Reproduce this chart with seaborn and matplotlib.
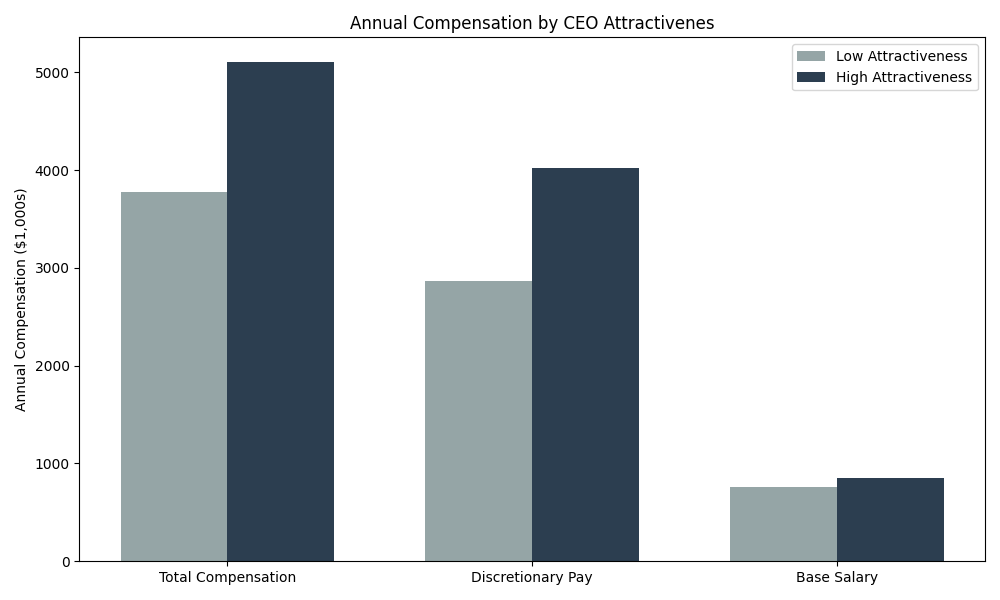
import matplotlib
matplotlib.use("Agg")
import matplotlib.pyplot as plt
import seaborn as sns
import pandas as pd

# data
categories = ["Total Compensation", "Discretionary Pay", "Base Salary"]
low_attr = [3773, 2863, 757]
high_attr = [5102, 4018, 849]
groups = ["Low Attractiveness", "High Attractiveness"]
colors = ["#95a5a6", "#2c3e50"]

df = pd.DataFrame({
    "category": categories * 2,
    "value": low_attr + high_attr,
    "group": [groups[0]] * 3 + [groups[1]] * 3,
})

fig, ax = plt.subplots(figsize=(10, 6), dpi=100)

sns.barplot(data=df, x="category", y="value", hue="group", hue_order=groups,
            palette=colors, saturation=1, width=0.7, linewidth=0,
            errorbar=None, ax=ax)

ax.set_xlim(-0.485, 2.485)
ax.set_title("Annual Compensation by CEO Attractivenes")
ax.set_xlabel("")
ax.set_ylabel("Annual Compensation ($1,000s)")
ax.legend(title=None, loc="upper right")

plt.tight_layout()
plt.savefig("out.png", dpi=100)
